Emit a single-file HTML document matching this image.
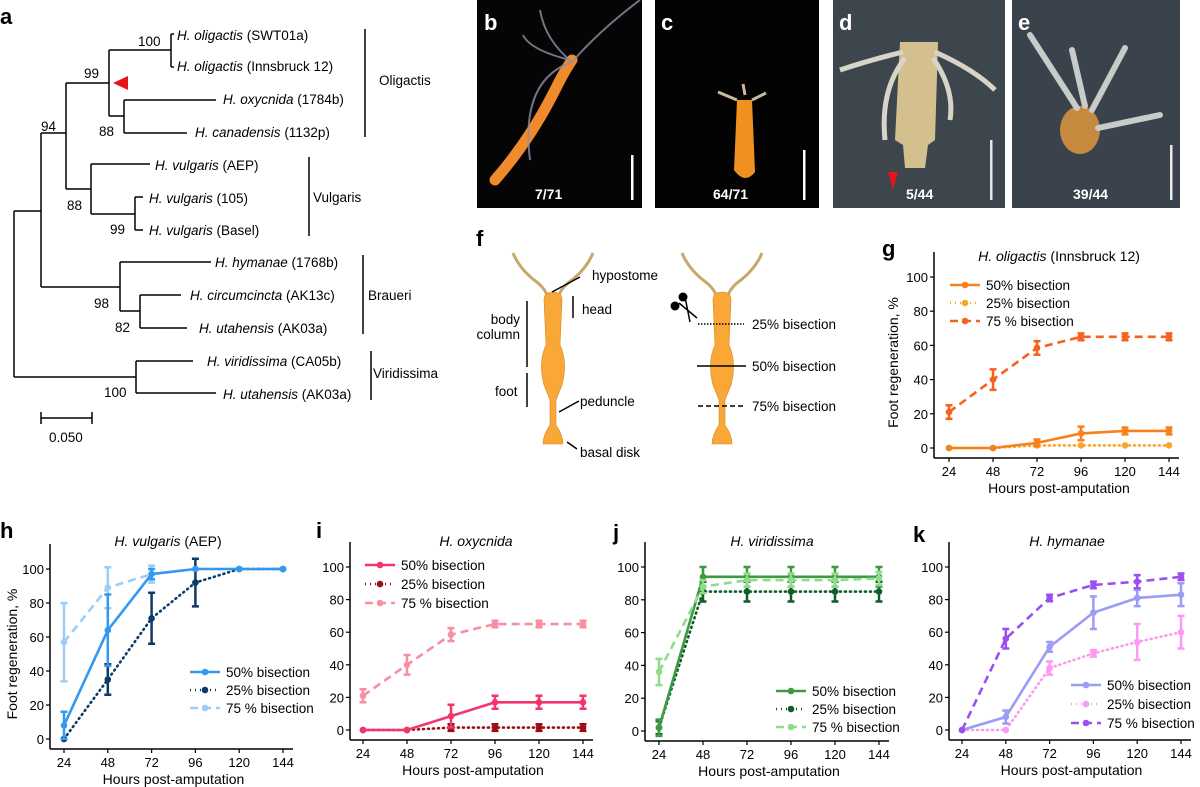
<!DOCTYPE html>
<html><head><meta charset="utf-8">
<style>
html,body{margin:0;padding:0;background:#fff;}
body{width:1200px;height:787px;overflow:hidden;position:relative;font-family:"Liberation Sans",Arial,sans-serif;}
svg{position:absolute;left:0;top:0;}
</style></head>
<body>
<svg id="fig" width="1200" height="787" viewBox="0 0 1200 787" xmlns="http://www.w3.org/2000/svg" font-family="Liberation Sans, Arial, sans-serif">
<g stroke="#000" stroke-width="1.5" fill="none">
<path d="M14 211V377M14 211H41M14 377H136M41 133V287M41 133H66M41 287H120M66 83V189M66 83H109M66 189H91M109 50V116M109 50H171M109 116H124M171 34V67M171 34H174M171 67H174M124 100V133M124 100H216M124 133H187M91 164V214M91 164H150M91 214H135M135 197V230M135 197H143M135 230H143M120 262V311M120 262H211M120 311H140M140 295V328M140 295H181M140 328H187M136 361V393M136 361H193M136 393H216"/>
<path d="M365 29V137M309 157V236M363 255V334M371 351V400M41 418H92M41 412V424M92 412V424"/>
</g>
<polygon points="113,83 128,76 128,90" fill="#e8141b"/>
<g font-size="13.5" fill="#000">
<text x="0" y="24" font-size="22" font-weight="bold">a</text>
<text x="138" y="46">100</text><text x="84" y="78">99</text><text x="41" y="131">94</text>
<text x="99" y="136">88</text><text x="67" y="210">88</text><text x="110" y="234">99</text>
<text x="94" y="308">98</text><text x="115" y="332">82</text><text x="104" y="397">100</text>
<text x="177" y="40"><tspan font-style="italic">H. oligactis</tspan>  (SWT01a)</text>
<text x="177" y="71"><tspan font-style="italic">H. oligactis</tspan>  (Innsbruck 12)</text>
<text x="223" y="104"><tspan font-style="italic">H. oxycnida</tspan>  (1784b)</text>
<text x="195" y="137"><tspan font-style="italic">H. canadensis</tspan>  (1132p)</text>
<text x="155" y="170"><tspan font-style="italic">H. vulgaris</tspan> (AEP)</text>
<text x="149" y="203"><tspan font-style="italic">H. vulgaris</tspan> (105)</text>
<text x="149" y="235"><tspan font-style="italic">H. vulgaris</tspan> (Basel)</text>
<text x="215" y="267"><tspan font-style="italic">H. hymanae</tspan> (1768b)</text>
<text x="190" y="300"><tspan font-style="italic">H. circumcincta</tspan> (AK13c)</text>
<text x="199" y="333"><tspan font-style="italic">H. utahensis</tspan> (AK03a)</text>
<text x="207" y="366"><tspan font-style="italic">H. viridissima</tspan> (CA05b)</text>
<text x="223" y="399"><tspan font-style="italic">H. utahensis</tspan> (AK03a)</text>
<text x="379" y="85">Oligactis</text><text x="313" y="202">Vulgaris</text>
<text x="368" y="300">Braueri</text><text x="373" y="378">Viridissima</text>
<text x="49" y="442">0.050</text>
</g>
<g>
<rect x="477" y="0" width="165" height="208" fill="#050505"/>
<path d="M495 180 Q530 140 555 90 Q565 70 572 60" stroke="#f08a2c" stroke-width="11" fill="none" stroke-linecap="round"/>
<path d="M572 62 Q545 40 540 10 M572 62 Q600 30 640 0 M572 62 Q520 80 530 160 M570 60 Q530 50 523 35" stroke="#8d8fa8" stroke-width="2" fill="none" opacity="0.8"/>
<text x="484" y="30" fill="#fff" font-size="22" font-weight="bold">b</text>
<text x="535" y="199" fill="#fff" font-size="14" font-weight="bold">7/71</text>
<rect x="631" y="155" width="2.5" height="45" fill="#fff"/>
</g>
<g>
<rect x="655" y="0" width="164" height="208" fill="#020202"/>
<path d="M737 100 L734 170 Q745 185 755 172 L752 100 Z" fill="#f0901f"/>
<path d="M737 100 Q725 95 718 92 M745 95 L743 84 M752 100 Q762 95 766 93" stroke="#c9b9a0" stroke-width="3" fill="none"/>
<text x="661" y="30" fill="#fff" font-size="22" font-weight="bold">c</text>
<text x="713" y="199" fill="#fff" font-size="14" font-weight="bold">64/71</text>
<rect x="803" y="150" width="2.5" height="50" fill="#fff"/>
</g>
<g>
<rect x="833" y="0" width="172" height="208" fill="#3d454d"/>
<path d="M900 42 L938 42 L935 140 L928 145 L925 168 L905 168 L903 145 L895 140 Z" fill="#d4c08f"/>
<path d="M903 52 Q870 60 840 70 M905 58 Q880 90 885 140 M935 52 Q975 70 995 90 M933 58 Q955 90 950 120" stroke="#d8d5c8" stroke-width="5" fill="none"/>
<polygon points="888,172 893,190 898,172" fill="#e8141b"/>
<text x="839" y="30" fill="#fff" font-size="22" font-weight="bold">d</text>
<text x="906" y="199" fill="#fff" font-size="14" font-weight="bold">5/44</text>
<rect x="990" y="140" width="2.5" height="60" fill="#e8e8e8"/>
</g>
<g>
<rect x="1012" y="0" width="168" height="208" fill="#3a434c"/>
<ellipse cx="1080" cy="130" rx="20" ry="24" fill="#c58a3e"/>
<path d="M1077 108 L1030 35 M1085 106 L1072 50 M1092 110 L1125 48 M1098 128 L1160 115" stroke="#c8cbc8" stroke-width="6" fill="none" stroke-linecap="round"/>
<text x="1018" y="30" fill="#fff" font-size="22" font-weight="bold">e</text>
<text x="1073" y="199" fill="#fff" font-size="14" font-weight="bold">39/44</text>
<rect x="1170" y="145" width="2.5" height="55" fill="#e8e8e8"/>
</g>
<g>
<text x="476" y="246" font-size="22" font-weight="bold">f</text>
<g>
<path d="M513 253 Q520 270 538 283 Q546 290 547 296 M593 253 Q586 270 568 283 Q560 290 559 296" stroke="#c9a66b" stroke-width="3" fill="none"/>
<path d="M544 300 Q544 292 553 292 Q562 292 562 300 L560 345 Q568 362 562 385 L556 400 L556 425 Q563 435 563 444 L543 444 Q543 435 550 425 L550 400 L544 385 Q538 362 546 345 Z" fill="#f9a737" stroke="#d88a20" stroke-width="0.6"/>
</g>
<g>
<path d="M682 253 Q689 270 707 283 Q715 290 716 296 M762 253 Q755 270 737 283 Q729 290 728 296" stroke="#c9a66b" stroke-width="3" fill="none"/>
<path d="M713 300 Q713 292 722 292 Q731 292 731 300 L729 345 Q737 362 731 385 L725 400 L725 425 Q732 435 732 444 L712 444 Q712 435 719 425 L719 400 L713 385 Q707 362 715 345 Z" fill="#f9a737" stroke="#d88a20" stroke-width="0.6"/>
</g>
<g stroke="#000" stroke-width="1.5" fill="none">
<path d="M552 292 L580 277 M573 296 V318 M527 301 V367 M527 373 V407 M559 412 L579 401 M567 442 L577 449"/>
<path d="M698 324 H744" stroke-dasharray="1.5,1.5"/>
<path d="M697 366 H746"/>
<path d="M698 406 H745" stroke-dasharray="5,3"/>
<path d="M679 303 L697 318 M685 297 L690 322"/>
</g>
<circle cx="675" cy="306" r="4.5" fill="#000"/><circle cx="683" cy="297" r="4.5" fill="#000"/>
<g font-size="13.5">
<text x="592" y="280">hypostome</text><text x="582" y="314">head</text>
<text x="520" y="324" text-anchor="end">body</text><text x="520" y="339" text-anchor="end">column</text>
<text x="495" y="396">foot</text><text x="580" y="406">peduncle</text><text x="580" y="457">basal disk</text>
<text x="752" y="329">25% bisection</text><text x="752" y="371">50% bisection</text><text x="752" y="411">75% bisection</text>
</g>
</g>
<g id="charts"></g>
</svg>
<script>
// X categories (hours post-amputation)
const hours = [24, 48, 72, 96, 120, 144];
const yTicks = [0, 20, 40, 60, 80, 100];
const seriesLabels = ["50% bisection", "25% bisection", "75 % bisection"];

// Panel g: H. oligactis (Innsbruck 12)
const g50 = [0, 0, 3, 8.5, 10, 10];
const g50err = [0, 0, 2, 4, 2, 2];
const g25 = [0, 0, 1.5, 1.5, 1.5, 1.5];
const g25err = [0, 0, 0, 0, 0, 0];
const g75 = [21, 40, 58.5, 65, 65, 65];
const g75err = [4, 6, 4, 2, 2, 2];

// Panel h: H. vulgaris (AEP)
const h50 = [8, 64, 97, 100, 100, 100];
const h50err = [8, 21, 3, 0, 0, 0];
const h25 = [0, 35, 71, 92, 100, 100];
const h25err = [0, 9, 15, 14, 0, 0];
const h75 = [57, 89, 97, 100, 100, 100];
const h75err = [23, 12, 5, 0, 0, 0];

// Panel i: H. oxycnida
const i50 = [0, 0, 8.5, 17, 17, 17];
const i50err = [0, 0, 7, 4, 4, 4];
const i25 = [0, 0, 1.5, 1.5, 1.5, 1.5];
const i25err = [0, 0, 2, 2, 2, 2];
const i75 = [21, 40, 58.5, 65, 65, 65];
const i75err = [4, 6, 4, 2, 2, 2];

// Panel j: H. viridissima
const j50 = [2, 94, 94, 94, 94, 94];
const j50err = [5, 6, 6, 6, 6, 6];
const j25 = [2, 85, 85, 85, 85, 85];
const j25err = [4, 6, 6, 6, 6, 6];
const j75 = [36, 88, 92, 92, 92, 93];
const j75err = [8, 4, 4, 4, 4, 4];

// Panel k: H. hymanae
const k50 = [0, 8, 51, 72, 81, 83];
const k50err = [0, 4, 3, 10, 5, 7];
const k25 = [0, 0, 38, 47, 54, 60];
const k25err = [0, 0, 4, 2, 11, 10];
const k75 = [0, 56, 81, 89, 91, 94];
const k75err = [0, 6, 2, 2, 4, 2];

const NS = "http://www.w3.org/2000/svg";
const root = document.getElementById('charts');
function mk(tag, parent, attrs) {
  const e = document.createElementNS(NS, tag);
  for (const k in attrs) e.setAttribute(k, attrs[k]);
  parent.appendChild(e);
  return e;
}
const dashes = ["", "1,4", "8,5"];

function chart(p) {
  const g = mk('g', root, {});
  
  
  const xs = v => p.x24 + (v - 24) / 120 * (p.x144 - p.x24);
  const ys = v => p.y0 - v / 100 * (p.y0 - p.y100);
  const bottom = p.y0 + 10, top = p.y100 - 25;
  const yax = mk('line', g, {x1: p.ax, y1: top, x2: p.ax, y2: bottom, stroke: '#000', 'stroke-width': 1.5});
  
  
  const xax = mk('line', g, {x1: p.ax, y1: bottom, x2: p.x144 + 10, y2: bottom, stroke: '#000', 'stroke-width': 1.5});
  
  
  yTicks.forEach(t => {
    mk('line', g, {x1: p.ax - 4, y1: ys(t), x2: p.ax, y2: ys(t), stroke: '#000', 'stroke-width': 1.2});
    const tl = mk('text', g, {x: p.ax - 6, y: ys(t) + 5, 'font-size': 13, 'text-anchor': 'end'});
    tl.textContent = t;
    
    
  });
  hours.forEach(h => {
    mk('line', g, {x1: xs(h), y1: bottom, x2: xs(h), y2: bottom + 4, stroke: '#000', 'stroke-width': 1.2});
    const tl = mk('text', g, {x: xs(h), y: bottom + 18, 'font-size': 13, 'text-anchor': 'middle'});
    tl.textContent = h;
    
    
  });
  const xl = mk('text', g, {x: (p.x24 + p.x144) / 2, y: bottom + 35, 'font-size': 14, 'text-anchor': 'middle'});
  xl.textContent = 'Hours post-amputation';
  
  
  if (p.ylab) {
    const yl = mk('text', g, {x: 0, y: 0, 'font-size': 14, 'text-anchor': 'middle', transform: 'translate(' + p.ylab + ',' + ((p.y0 + p.y100) / 2) + ') rotate(-90)'});
    yl.textContent = 'Foot regeneration, %';
    
    
  }
  const tt = mk('text', g, {x: p.tx, y: p.ty, 'font-size': 14, 'text-anchor': 'middle'});
  tt.innerHTML = '<tspan font-style="italic">' + p.title + '</tspan>' + (p.strain ? ' ' + p.strain : '');
  
  
  const lt = mk('text', g, {x: p.lx, y: p.ly, 'font-size': 22, 'font-weight': 'bold'});
  lt.textContent = p.id;
  
  
  p.order.forEach(si => {
    const vals = p.series[si], errs = p.errs[si], col = p.colors[si];
    const sg = mk('g', g, {});
    
    
    vals.forEach((v, k) => {
      const e = errs[k];
      if (e > 0) {
        const eb = mk('path', sg, {d: 'M' + xs(hours[k]) + ' ' + ys(v - e) + 'V' + ys(v + e) + 'M' + (xs(hours[k]) - 3.5) + ' ' + ys(v - e) + 'h7M' + (xs(hours[k]) - 3.5) + ' ' + ys(v + e) + 'h7', stroke: col, 'stroke-width': 2.5, fill: 'none'});
        
        
      }
    });
    const d = vals.map((v, k) => (k ? 'L' : 'M') + xs(hours[k]) + ' ' + ys(v)).join('');
    const ln = mk('path', sg, {d: d, stroke: col, 'stroke-width': 2.6, fill: 'none', 'stroke-dasharray': dashes[si], 'stroke-linecap': si === 1 ? 'round' : 'butt'});
    
    
    vals.forEach((v, k) => {
      const c = mk('circle', sg, {cx: xs(hours[k]), cy: ys(v), r: 3.3, fill: col});
      
      
    });
  });
  [0, 1, 2].forEach(si => {
    const lg = mk('g', g, {});
    
    
    const yy = p.legY + si * p.legDy;
    mk('line', lg, {x1: p.legX, y1: yy, x2: p.legX + 30, y2: yy, stroke: p.colors[si], 'stroke-width': 2.6, 'stroke-dasharray': dashes[si]});
    mk('circle', lg, {cx: p.legX + 15, cy: yy, r: 3.3, fill: p.colors[si]});
    const t = mk('text', lg, {x: p.legX + 36, y: yy + 5, 'font-size': 13.5});
    t.textContent = seriesLabels[si];
  });
}

chart({id: 'g', ax: 934, x24: 949, x144: 1169, y0: 448, y100: 277, ylab: 898, title: 'H. oligactis', strain: '(Innsbruck 12)', tx: 1059, ty: 261, lx: 882, ly: 256,
  series: [g50, g25, g75], errs: [g50err, g25err, g75err], colors: ['#f8811c', '#fba62a', '#f4621e'], order: [2, 1, 0], legX: 950, legY: 285, legDy: 18});
chart({id: 'h', ax: 50, x24: 64, x144: 283, y0: 739, y100: 569, ylab: 17, title: 'H. vulgaris', strain: '(AEP)', tx: 168, ty: 546, lx: 0, ly: 538,
  series: [h50, h25, h75], errs: [h50err, h25err, h75err], colors: ['#3399f0', '#0e3a68', '#9ccdf7'], order: [2, 1, 0], legX: 190, legY: 672, legDy: 18});
chart({id: 'i', ax: 350, x24: 363, x144: 583, y0: 730, y100: 567, ylab: 0, title: 'H. oxycnida', strain: '', tx: 476, ty: 546, lx: 316, ly: 538,
  series: [i50, i25, i75], errs: [i50err, i25err, i75err], colors: ['#f2366b', '#9b0f15', '#f88ea0'], order: [2, 1, 0], legX: 365, legY: 565, legDy: 19});
chart({id: 'j', ax: 645, x24: 659, x144: 879, y0: 731, y100: 567, ylab: 0, title: 'H. viridissima', strain: '', tx: 772, ty: 546, lx: 613, ly: 540,
  series: [j50, j25, j75], errs: [j50err, j25err, j75err], colors: ['#3e9a41', '#105c2c', '#8fdc8a'], order: [1, 0, 2], legX: 776, legY: 691, legDy: 18});
chart({id: 'k', ax: 949, x24: 962, x144: 1181, y0: 730, y100: 567, ylab: 0, title: 'H. hymanae', strain: '', tx: 1067, ty: 546, lx: 913, ly: 542,
  series: [k50, k25, k75], errs: [k50err, k25err, k75err], colors: ['#9a9cf5', '#fb9af0', '#9c4ff0'], order: [1, 0, 2], legX: 1071, legY: 685, legDy: 19});
</script>
</body></html>
